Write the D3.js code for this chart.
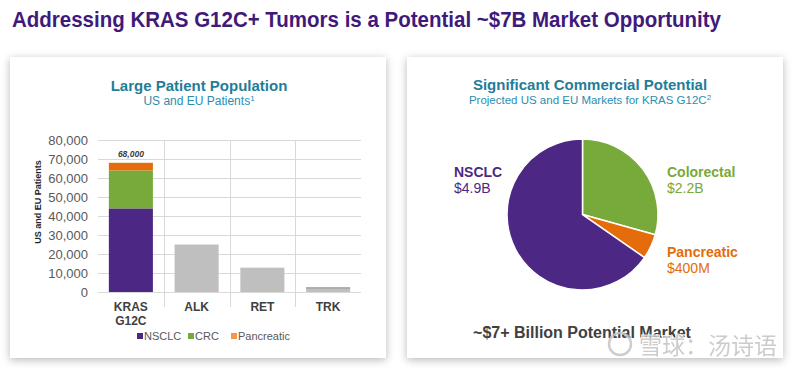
<!DOCTYPE html>
<html>
<head>
<meta charset="utf-8">
<script src="https://d3js.org/d3.v7.min.js"></script>
<style>
  body { margin: 0; background: #fff; }
  svg { display: block; font-family: "Liberation Sans", Arial, sans-serif; }
</style>
</head>
<body>
<script>
// bar chart data
var categories = ["KRAS G12C", "ALK", "RET", "TRK"];
var krasSegments = ["NSCLC", "CRC", "Pancreatic"];
var krasValues = [44000, 20000, 4000];
var otherValues = [25000, 12800, 2500]; // ALK, RET, TRK
var yTicks = [0, 10000, 20000, 30000, 40000, 50000, 60000, 70000, 80000];
var totalLabel = "68,000";

// pie data
var pieNames = ["Colorectal", "Pancreatic", "NSCLC"];
var pieValues = [2.2, 0.4, 4.9];
var pieValueLabels = ["$2.2B", "$400M", "$4.9B"];

var purple = "#4d2784", green = "#78a93b", orange = "#e46c0a", grey = "#bfbfbf";
var segColors = [purple, green, orange];
var legendColors = [purple, green, "#f79646"];

var W = 800, H = 371;
var svg = d3.select("body").append("svg").attr("width", W).attr("height", H);

var defs = svg.append("defs");
var f = defs.append("filter").attr("id", "shadow")
  .attr("x", "-10%").attr("y", "-10%").attr("width", "120%").attr("height", "120%");
f.append("feDropShadow").attr("dx", 0).attr("dy", 2).attr("stdDeviation", 4)
  .attr("flood-color", "#000").attr("flood-opacity", 0.28);

// main title (narrow bold look)
svg.append("text")
  .attr("x", 12).attr("y", 27)
  .attr("textLength", 709).attr("lengthAdjust", "spacingAndGlyphs")
  .style("font-family", "'Liberation Sans Narrow','Liberation Sans',sans-serif")
  .style("font-weight", "bold").style("font-size", "22px")
  .attr("fill", "#3f1a7a")
  .text("Addressing KRAS G12C+ Tumors is a Potential ~$7B Market Opportunity");

// panels
svg.append("rect").attr("x", 10).attr("y", 57).attr("width", 376).attr("height", 301)
  .attr("fill", "#fff").attr("filter", "url(#shadow)");
svg.append("rect").attr("x", 407).attr("y", 57).attr("width", 376).attr("height", 301)
  .attr("fill", "#fff").attr("filter", "url(#shadow)");

// ---- left: bar chart ----
var left = svg.append("g");
left.append("text").attr("x", 199).attr("y", 91).attr("text-anchor", "middle")
  .style("font-weight", "bold").style("font-size", "15px").attr("fill", "#1f7d99")
  .text("Large Patient Population");
var sub = left.append("text").attr("x", 199).attr("y", 105).attr("text-anchor", "middle")
  .style("font-size", "12px").attr("fill", "#2b8db0");
sub.append("tspan").text("US and EU Patients");
sub.append("tspan").attr("dy", -4).style("font-size", "8px").text("1");

var x = d3.scaleBand().domain(categories).range([98, 361]).paddingInner(0.33).paddingOuter(0.165);
var y = d3.scaleLinear().domain([0, 80000]).range([292, 140]);

var yAxis = left.append("g").attr("transform", "translate(98,0)")
  .call(d3.axisLeft(y).tickValues(yTicks).tickSize(-263).tickPadding(10)
    .tickFormat(d3.format(",")));
yAxis.select(".domain").remove();
yAxis.selectAll("line").attr("stroke", "#d9d9d9");
yAxis.selectAll("text").attr("fill", "#595959").style("font-size", "13px")
  .style("font-family", "'Liberation Sans', Arial, sans-serif");

// separators between categories
var step = x.step();
left.selectAll("line.sep").data(categories.slice(1)).enter().append("line")
  .attr("class", "sep")
  .attr("x1", function(d) { return Math.round(x(d) - step * 0.165) + 0.5; })
  .attr("x2", function(d) { return Math.round(x(d) - step * 0.165) + 0.5; })
  .attr("y1", y(80000)).attr("y2", 307)
  .attr("stroke", "#d9d9d9");

// stacked KRAS bar
var cum = 0;
var stacks = krasValues.map(function(v, i) {
  var s = { name: krasSegments[i], y0: cum, y1: cum + v, color: segColors[i] };
  cum += v;
  return s;
});
left.selectAll("rect.kras").data(stacks).enter().append("rect")
  .attr("class", "kras")
  .attr("x", x(categories[0])).attr("width", x.bandwidth())
  .attr("y", function(d) { return y(d.y1); })
  .attr("height", function(d) { return y(d.y0) - y(d.y1); })
  .attr("fill", function(d) { return d.color; });
left.append("text").attr("x", x(categories[0]) + x.bandwidth() / 2).attr("y", y(cum) - 6)
  .attr("text-anchor", "middle").style("font-size", "8.5px").style("font-weight", "bold")
  .style("font-style", "italic").attr("fill", "#404040").text(totalLabel);

// grey bars
left.selectAll("rect.other").data(otherValues).enter().append("rect")
  .attr("class", "other")
  .attr("x", function(d, i) { return x(categories[i + 1]); })
  .attr("width", x.bandwidth())
  .attr("y", function(d) { return y(d); })
  .attr("height", function(d) { return y(0) - y(d); })
  .attr("fill", grey);
left.append("rect").attr("x", x(categories[3])).attr("width", x.bandwidth())
  .attr("y", y(otherValues[2])).attr("height", 1.5).attr("fill", "#a6a6a6");

// category labels
var catLab = left.selectAll("text.cat").data(categories).enter().append("text")
  .attr("class", "cat")
  .attr("x", function(d) { return x(d) + x.bandwidth() / 2; })
  .attr("y", 311).attr("text-anchor", "middle")
  .style("font-weight", "bold").style("font-size", "12px").attr("fill", "#404040");
catLab.each(function(d) {
  var parts = d.split(" ");
  var t = d3.select(this);
  parts.forEach(function(p, i) {
    t.append("tspan").attr("x", x(d) + x.bandwidth() / 2).attr("dy", i ? 14 : 0).text(p);
  });
});

// y axis title
left.append("text").attr("transform", "translate(41,202) rotate(-90)")
  .attr("text-anchor", "middle").style("font-size", "9px").style("font-weight", "bold")
  .attr("fill", "#262626").text("US and EU Patients");

// legend
var legX = [137, 188, 231];
var leg = left.selectAll("g.leg").data(krasSegments).enter().append("g")
  .attr("transform", function(d, i) { return "translate(" + legX[i] + ",340)"; });
leg.append("rect").attr("x", 0).attr("y", -7).attr("width", 6).attr("height", 6)
  .attr("fill", function(d, i) { return legendColors[i]; });
leg.append("text").attr("x", 7).attr("y", 0).style("font-size", "11px")
  .attr("fill", "#595959").text(function(d) { return d; });

// ---- right: pie ----
var right = svg.append("g");
right.append("text").attr("x", 590).attr("y", 90).attr("text-anchor", "middle")
  .style("font-weight", "bold").style("font-size", "15px").attr("fill", "#1f7d99")
  .text("Significant Commercial Potential");
var sub2 = right.append("text").attr("x", 590).attr("y", 104).attr("text-anchor", "middle")
  .style("font-size", "11.5px").attr("fill", "#2b8db0");
sub2.append("tspan").text("Projected US and EU Markets for KRAS G12C");
sub2.append("tspan").attr("dy", -4).style("font-size", "8px").text("2");

var pieColors = [green, orange, purple];
var pie = d3.pie().sort(null).value(function(d) { return d; });
var arc = d3.arc().innerRadius(0).outerRadius(75.5);
var pg = right.append("g").attr("transform", "translate(582.5,214.5)");
pg.selectAll("path").data(pie(pieValues)).enter().append("path")
  .attr("d", arc)
  .attr("fill", function(d, i) { return pieColors[i]; })
  .attr("stroke", "#fff").attr("stroke-width", 1.5);

var labPos = [[667, 177], [667, 257], [454, 177]];
var lab = right.selectAll("g.plab").data(pieNames).enter().append("g")
  .attr("transform", function(d, i) { return "translate(" + labPos[i][0] + "," + labPos[i][1] + ")"; });
lab.append("text").attr("y", 0).style("font-weight", "bold").style("font-size", "14px")
  .attr("fill", function(d, i) { return pieColors[i]; }).text(function(d) { return d; });
lab.append("text").attr("y", 16).style("font-size", "14px")
  .attr("fill", function(d, i) { return pieColors[i]; })
  .text(function(d, i) { return pieValueLabels[i]; });

right.append("text").attr("x", 582).attr("y", 338).attr("text-anchor", "middle")
  .style("font-weight", "bold").style("font-size", "16px").attr("fill", "#404040")
  .text("~$7+ Billion Potential Market");

// watermark
svg.append("circle").attr("cx", 620).attr("cy", 344).attr("r", 11)
  .attr("fill", "none").attr("stroke", "#c4c4c4").attr("stroke-width", 2.5).attr("opacity", 0.85);
svg.append("text").attr("x", 639).attr("y", 354)
  .style("font-family", "'Noto Sans CJK SC', sans-serif").style("font-size", "23px")
  .style("paint-order", "stroke")
  .attr("fill", "#c4c4c4").attr("stroke", "#fff").attr("stroke-width", 2).attr("opacity", 0.85)
  .text("雪球：汤诗语");
</script>
</body>
</html>
